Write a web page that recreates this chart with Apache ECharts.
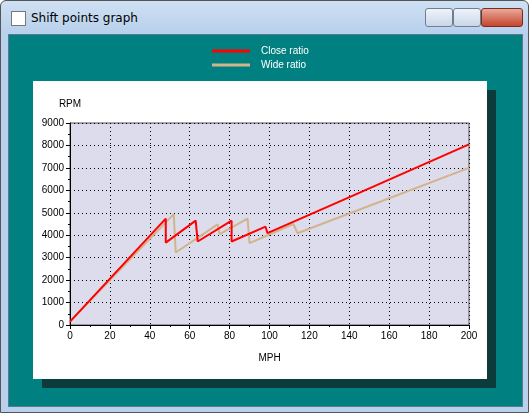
<!DOCTYPE html>
<html><head><meta charset="utf-8">
<script src="https://cdn.jsdelivr.net/npm/echarts@6/dist/echarts.min.js"></script>
<style>
body{margin:0;width:529px;height:413px;overflow:hidden;background:#fff;font-family:"Segoe UI","DejaVu Sans",sans-serif}
#frame{position:absolute;left:0;top:0;width:527px;height:411px;border:1px solid #555;background:linear-gradient(#cfe0f3,#b9d1ec 30px,#b9d1ec);border-radius:6px 6px 0 0}
#title{position:absolute;left:30px;top:10px;font-size:12px;color:#000}
#icon{position:absolute;left:10px;top:10px;width:13px;height:13px;border:1px solid #777;background:#fff}
.btn{position:absolute;top:7px;height:17px;border:1px solid #6d7f96;border-radius:3px;background:linear-gradient(#f0f4fa,#c9d6e7)}
#close{background:linear-gradient(#e9a99a,#c4452c);border-color:#7a2c1f}
#teal{position:absolute;left:8px;top:34px;width:513px;height:371px;background:#008080;border:1px solid #5a7a8c}
#shadow{position:absolute;left:42px;top:90px;width:454px;height:298px;background:#0b3b3b}
#panel{position:absolute;left:33px;top:81px;width:454px;height:298px;background:#fff}
#chart{position:absolute;left:0;top:0;width:529px;height:413px}
</style></head><body>
<div id="frame"><div id="icon"></div><div id="title">Shift points graph</div>
<div class="btn" style="left:424px;width:26px"></div>
<div class="btn" style="left:452px;width:26px"></div>
<div class="btn" id="close" style="left:480px;width:40px"></div></div>
<div id="teal"></div><div id="shadow"></div><div id="panel"></div>
<div id="chart"></div>
<script>
var closeMph = [0, 48, 48, 63, 64, 81, 81, 98, 99, 135, 200];
var closeRpm = [150, 4740, 3670, 4650, 3720, 4650, 3720, 4380, 4090, 5500, 8050];
var wideMph = [0, 52, 53, 74, 75, 89, 90, 112, 114, 135, 200];
var wideRpm = [150, 4940, 3230, 4480, 4050, 4740, 3650, 4500, 4090, 4800, 7000];

function pairs(xs, ys) {
    var d = [];
    for (var i = 0; i < xs.length; i++) d.push([xs[i], ys[i]]);
    return d;
}

var chart = echarts.init(document.getElementById('chart'));
chart.setOption({
    animation: false,
    textStyle: {fontFamily: 'Liberation Sans, Arial, sans-serif'},
    legend: {
        orient: 'vertical', left: 207, top: 41, itemWidth: 38, itemHeight: 3, itemGap: 4,
        icon: 'rect', textStyle: {color: '#fff', fontSize: 10, padding: [0, 0, 0, 6]}
    },
    grid: {left: 70, top: 123, width: 399, height: 202, show: true,
        backgroundColor: '#dcdcec', borderColor: '#555', borderWidth: 1},
    xAxis: {
        type: 'value', min: 0, max: 200, interval: 20,
        name: 'MPH', nameLocation: 'middle', nameGap: 28,
        nameTextStyle: {color: '#000', fontSize: 10},
        axisLine: {lineStyle: {color: '#000'}},
        axisTick: {show: true, length: 4, lineStyle: {color: '#000'}},
        minorTick: {show: true, splitNumber: 2, length: 2, lineStyle: {color: '#000'}},
        axisLabel: {color: '#000', fontSize: 10, margin: 6},
        splitLine: {lineStyle: {color: '#000', type: [1, 3]}}
    },
    yAxis: {
        type: 'value', min: 0, max: 9000, interval: 1000,
        name: 'RPM', nameLocation: 'end', nameGap: 14,
        nameTextStyle: {color: '#000', fontSize: 10, align: 'center'},
        axisLine: {show: true, lineStyle: {color: '#000'}},
        axisTick: {show: true, length: 4, lineStyle: {color: '#000'}},
        minorTick: {show: true, splitNumber: 2, length: 2, lineStyle: {color: '#000'}},
        axisLabel: {color: '#000', fontSize: 10, margin: 6, formatter: function (v) { return String(v); }},
        splitLine: {lineStyle: {color: '#000', type: [1, 3]}}
    },
    series: [
        {name: 'Close ratio', type: 'line', data: pairs(closeMph, closeRpm), symbol: 'none',
            color: '#ff0000', lineStyle: {width: 2, color: '#ff0000'}, z: 3},
        {name: 'Wide ratio', type: 'line', data: pairs(wideMph, wideRpm), symbol: 'none',
            color: '#d2b48c', lineStyle: {width: 2, color: '#d2b48c'}, z: 2}
    ]
});
</script>
</body></html>
